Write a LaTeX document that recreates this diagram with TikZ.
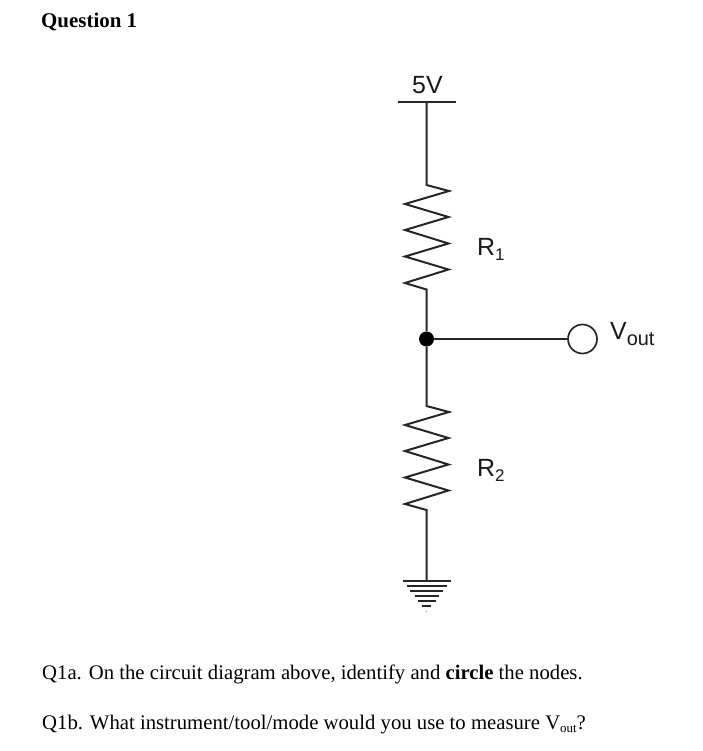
\documentclass[tikz,border=0pt]{standalone}
\usepackage{fontspec}
\setmainfont{Liberation Serif}
\newfontfamily\helv{Liberation Sans}
\tikzset{
  wire/.style={line width=2pt,black!85},
  txt/.style={inner sep=0pt,anchor=base west,text=black},
  ckt/.style={inner sep=0pt,anchor=base west,font=\helv\fontsize{25}{28}\selectfont,text=black!90},
  gbar/.style={line width=2.3pt,black!85},
  junction/.style={circle,fill=black,inner sep=0pt,minimum size=15bp},
  terminal/.style={circle,draw=black!85,line width=1.7pt,fill=white,inner sep=0pt,minimum size=29bp}
}
\begin{document}
\begin{tikzpicture}[x=1bp,y=-1bp]
\useasboundingbox (0,0) rectangle (703,751);
\node[txt,font=\bfseries\fontsize{21}{24}\selectfont] (title) at (41,28) {Question 1};
\node[ckt] (five) at (412,93) {5V};
\node[ckt] (rone) at (477,255) {R\raisebox{-5bp}{\fontsize{17}{18}\selectfont 1}};
\node[ckt] (rtwo) at (477,476) {R\raisebox{-5bp}{\fontsize{17}{18}\selectfont 2}};
\node[ckt] (vout) at (610,339) {V\raisebox{-6bp}{\fontsize{20}{22}\selectfont out}};
\node[txt,font=\fontsize{20.8}{24}\selectfont] (qa) at (42,679) {Q1a. On the circuit diagram above, identify and \textbf{circle} the nodes.};
\node[txt,font=\fontsize{20.8}{24}\selectfont] (qb) at (42,729) {Q1b. What instrument/tool/mode would you use to measure V\raisebox{-3bp}{\fontsize{13}{14}\selectfont out}?};
\coordinate (top) at (426.5,102);
\coordinate (topl) at (397.5,102);
\coordinate (topr) at (456,102);
\coordinate (gnd) at (426.5,581);
\node[junction] (j) at (426.5,339) {};
\node[terminal] (t) at (582.5,339) {};
\draw[wire] (topl) -- (topr);
\draw[wire,line join=miter] (top) -- (426.5,185) -- (449,191) -- (405,204) -- (448.5,217) -- (405,230) -- (448.5,243.5) -- (405,256.5) -- (448.5,269.5) -- (405,283) -- (426.5,289.5) -- (j);
\draw[wire,line join=miter] (j) -- (426.5,406) -- (449,412) -- (405,425) -- (448.5,438) -- (405,451) -- (448.5,464.5) -- (405,477.5) -- (448.5,490.5) -- (405,504) -- (426.5,510) -- (gnd);
\draw[wire] (j) -- (t);
\draw[gbar] (403,581) -- (451,581);
\draw[gbar] (407,586) -- (447,586);
\draw[gbar] (410,591) -- (443,591);
\draw[gbar] (414.5,596) -- (439,596);
\draw[gbar] (418,601) -- (436,601);
\draw[gbar] (422,606) -- (431,606);
\draw[line width=1pt,black!50] (426,611) -- (427,611);
\end{tikzpicture}
\end{document}
